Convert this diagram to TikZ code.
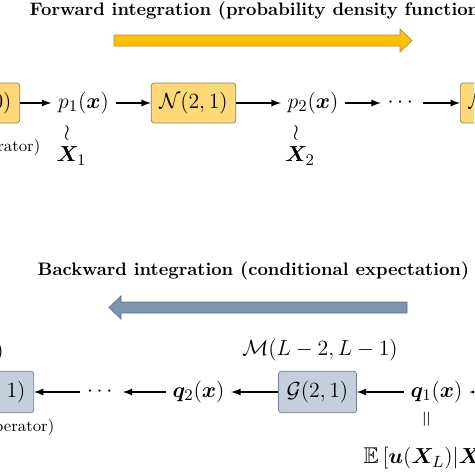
\documentclass[tikz,border=0pt]{standalone}
\usepackage{amsmath}
\usepackage{amssymb}
\usepackage{bm}
\usetikzlibrary{positioning}

\definecolor{fwdfill}{HTML}{FFD978}
\definecolor{fwdedge}{HTML}{8C8260}
\definecolor{fwdarrow}{HTML}{FFC000}
\definecolor{fwdarrowedge}{HTML}{A8924A}
\definecolor{bwdfill}{HTML}{C5CEDD}
\definecolor{bwdedge}{HTML}{6F829C}
\definecolor{bwdarrow}{HTML}{7D94B0}
\definecolor{bwdarrowedge}{HTML}{5A6F8A}

\tikzset{
  fwdbox/.style={draw=fwdedge, fill=fwdfill, rounded corners=1.5pt, font=\fontsize{13.2}{16}\selectfont, minimum height=22pt, inner xsep=4.5pt, thin},
  bwdbox/.style={draw=bwdedge, fill=bwdfill, rounded corners=1.5pt, font=\fontsize{13.2}{16}\selectfont, minimum height=23pt, inner xsep=4.5pt, thin},
  term/.style={font=\fontsize{12.6}{15}\selectfont},
  note/.style={font=\small, inner sep=0pt},
  heading/.style={font=\bfseries, inner sep=0pt, anchor=base west},
}

\begin{document}
\begin{tikzpicture}[x=0.5525pt, y=-0.5525pt, >=latex, thick]
  \useasboundingbox (0,0) rectangle (474,474);
  \clip (0,0) rectangle (474,474);

  % forward integration
  \node[heading] (fwdtitle) at (29,15) {Forward integration (probability density function)};
  \filldraw[fill=fwdarrow, draw=fwdarrowedge, thin] (114,35) -- (400,35) -- (400,29) -- (412,40.5) -- (400,52) -- (400,46) -- (114,46) -- cycle;

  \node[fwdbox, anchor=east] (n10) at (20,103) {$\mathcal{N}(1,0)$};
  \node[term] (p1) at (83.5,103) {$p_1(\bm{x})$};
  \node[fwdbox] (n21) at (193.5,103) {$\mathcal{N}(2,1)$};
  \node[term] (p2) at (313,103) {$p_2(\bm{x})$};
  \node[term] (dots1) at (402,103) {$\cdots$};
  \node[fwdbox, anchor=west] (nL) at (460,103) {$\mathcal{N}(L,L-1)$};
  \node[note, anchor=east] (pfop) at (41,147) {(Perron--Frobenius operator)};

  \node[term] (wr1) at (67,133) {$\wr$};
  \node[term] (X1) at (71.5,156) {$\bm{X}_1$};
  \node[term] (wr2) at (296,133) {$\wr$};
  \node[term] (X2) at (300,156) {$\bm{X}_2$};

  \draw[->] (n10) -- (p1);
  \draw[->] (p1) -- (n21);
  \draw[->] (n21) -- (p2);
  \draw[->] (p2) -- (dots1);
  \draw[->] (dots1) -- (nL);

  % backward integration
  \node[heading] (bwdtitle) at (37,275) {Backward integration (conditional expectation)};
  \filldraw[fill=bwdarrow, draw=bwdarrowedge, thin] (407,302) -- (121,302) -- (121,296) -- (109,307.5) -- (121,319) -- (121,313) -- (407,313) -- cycle;

  \node[bwdbox, anchor=east] (gL) at (34,392) {$\mathcal{G}(L,L-1)$};
  \node[term] (dots2) at (101.5,392) {$\cdots$};
  \node[term] (q2) at (198.5,392) {$\bm{q}_2(\bm{x})$};
  \node[bwdbox] (g21) at (317.5,392) {$\mathcal{G}(2,1)$};
  \node[term] (q1) at (436.5,392) {$\bm{q}_1(\bm{x})$};
  \coordinate (qin) at (495,392);

  \node[term, inner sep=0pt, anchor=east] (m01) at (4.5,352) {$\mathcal{M}(0,1)$};
  \node[term] (m21) at (320,350) {$\mathcal{M}(L-2,L-1)$};
  \node[note, anchor=east] (kop) at (55,427) {(Koopman operator)};
  \node[term, rotate=90, inner sep=0pt] (eq1) at (428,419.5) {$=$};
  \node[term, inner sep=0pt, anchor=west] (cexp) at (363,458) {$\mathbb{E}\left[\bm{u}(\bm{X}_L)|\bm{X}_{L-1}=\bm{x}\right]$};

  \draw[->] (qin) -- (q1);
  \draw[->] (q1) -- (g21);
  \draw[->] (g21) -- (q2);
  \draw[->] (q2) -- (dots2);
  \draw[->] (dots2) -- (gL);
\end{tikzpicture}
\end{document}
